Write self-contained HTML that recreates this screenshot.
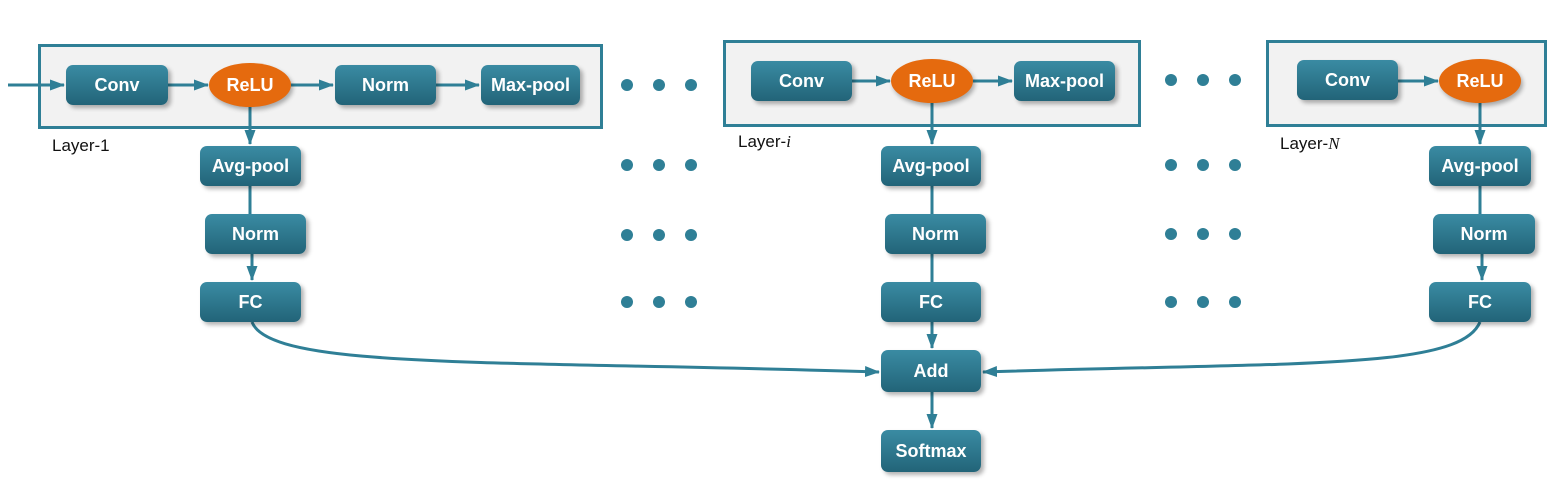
<!DOCTYPE html>
<html><head><meta charset="utf-8"><style>
body{margin:0;background:#fff;width:1555px;height:492px;overflow:hidden;position:relative;font-family:"Liberation Sans",sans-serif}
.b{position:absolute;border-radius:7px;background:linear-gradient(#3a8ba3,#226478);color:#fff;font-weight:bold;font-size:18px;display:flex;align-items:center;justify-content:center;box-shadow:3px 3px 4px rgba(0,0,0,.3);height:40px}
.r{position:absolute;width:82px;height:44px;border-radius:50%;background:#e56a0e;color:#fff;font-weight:bold;font-size:18px;display:flex;align-items:center;justify-content:center;box-shadow:2px 3px 4px rgba(0,0,0,.3)}
.box{position:absolute;border:3px solid #2f7f96;background:#f2f2f2}
.l{position:absolute;font-size:17px;color:#111}
.d{position:absolute;width:12px;height:12px;border-radius:50%;background:#2f7f96}
svg{position:absolute;left:0;top:0}
</style></head><body>
<div class="box" style="left:38px;top:44px;width:559px;height:79px"></div>
<div class="box" style="left:723px;top:40px;width:412px;height:81px"></div>
<div class="box" style="left:1266px;top:40px;width:275px;height:81px"></div>
<svg width="1555" height="492">
<defs><marker id="a" markerWidth="15" markerHeight="11" refX="14" refY="5.5" orient="auto" markerUnits="userSpaceOnUse"><path d="M0,0L15,5.5L0,11z" fill="#2f7f96"/></marker></defs>
<g stroke="#2f7f96" stroke-width="3" fill="none">
<path d="M8,85H64" marker-end="url(#a)"/>
<path d="M168,85H208" marker-end="url(#a)"/>
<path d="M291,85H333" marker-end="url(#a)"/>
<path d="M436,85H479" marker-end="url(#a)"/>
<path d="M250,107V144" marker-end="url(#a)"/>
<path d="M250,186V214"/>
<path d="M252,254V280" marker-end="url(#a)"/>
<path d="M852,81H890" marker-end="url(#a)"/>
<path d="M973,81H1012" marker-end="url(#a)"/>
<path d="M932,103V144" marker-end="url(#a)"/>
<path d="M932,186V214"/>
<path d="M932,254V282"/>
<path d="M932,322V348" marker-end="url(#a)"/>
<path d="M932,392V428" marker-end="url(#a)"/>
<path d="M1398,81H1438" marker-end="url(#a)"/>
<path d="M1480,103V144" marker-end="url(#a)"/>
<path d="M1480,186V214"/>
<path d="M1482,254V280" marker-end="url(#a)"/>
<path d="M252,322C270,370 500,360 879,372" marker-end="url(#a)"/>
<path d="M1480,322C1460,370 1300,362 983,372" marker-end="url(#a)"/>
</g></svg>
<div class="b" style="left:66px;top:65px;width:102px">Conv</div>
<div class="r" style="left:209px;top:63px">ReLU</div>
<div class="b" style="left:335px;top:65px;width:101px">Norm</div>
<div class="b" style="left:481px;top:65px;width:99px">Max-pool</div>
<div class="l" style="left:52px;top:136px">Layer-1</div>
<div class="b" style="left:200px;top:146px;width:101px">Avg-pool</div>
<div class="b" style="left:205px;top:214px;width:101px">Norm</div>
<div class="b" style="left:200px;top:282px;width:101px">FC</div>

<div class="b" style="left:751px;top:61px;width:101px">Conv</div>
<div class="r" style="left:891px;top:59px">ReLU</div>
<div class="b" style="left:1014px;top:61px;width:101px">Max-pool</div>
<div class="l" style="left:738px;top:132px">Layer-<i style="font-family:'Liberation Serif',serif">i</i></div>
<div class="b" style="left:881px;top:146px;width:100px">Avg-pool</div>
<div class="b" style="left:885px;top:214px;width:101px">Norm</div>
<div class="b" style="left:881px;top:282px;width:100px">FC</div>
<div class="b" style="left:881px;top:350px;width:100px;height:42px">Add</div>
<div class="b" style="left:881px;top:430px;width:100px;height:42px">Softmax</div>

<div class="b" style="left:1297px;top:60px;width:101px">Conv</div>
<div class="r" style="left:1439px;top:59px">ReLU</div>
<div class="l" style="left:1280px;top:134px">Layer-<i style="font-family:'Liberation Serif',serif">N</i></div>
<div class="b" style="left:1429px;top:146px;width:102px">Avg-pool</div>
<div class="b" style="left:1433px;top:214px;width:102px">Norm</div>
<div class="b" style="left:1429px;top:282px;width:102px">FC</div>

<div class="d" style="left:621px;top:79px"></div><div class="d" style="left:653px;top:79px"></div><div class="d" style="left:685px;top:79px"></div>
<div class="d" style="left:621px;top:159px"></div><div class="d" style="left:653px;top:159px"></div><div class="d" style="left:685px;top:159px"></div>
<div class="d" style="left:621px;top:229px"></div><div class="d" style="left:653px;top:229px"></div><div class="d" style="left:685px;top:229px"></div>
<div class="d" style="left:621px;top:296px"></div><div class="d" style="left:653px;top:296px"></div><div class="d" style="left:685px;top:296px"></div>
<div class="d" style="left:1165px;top:74px"></div><div class="d" style="left:1197px;top:74px"></div><div class="d" style="left:1229px;top:74px"></div>
<div class="d" style="left:1165px;top:159px"></div><div class="d" style="left:1197px;top:159px"></div><div class="d" style="left:1229px;top:159px"></div>
<div class="d" style="left:1165px;top:228px"></div><div class="d" style="left:1197px;top:228px"></div><div class="d" style="left:1229px;top:228px"></div>
<div class="d" style="left:1165px;top:296px"></div><div class="d" style="left:1197px;top:296px"></div><div class="d" style="left:1229px;top:296px"></div>
</body></html>
